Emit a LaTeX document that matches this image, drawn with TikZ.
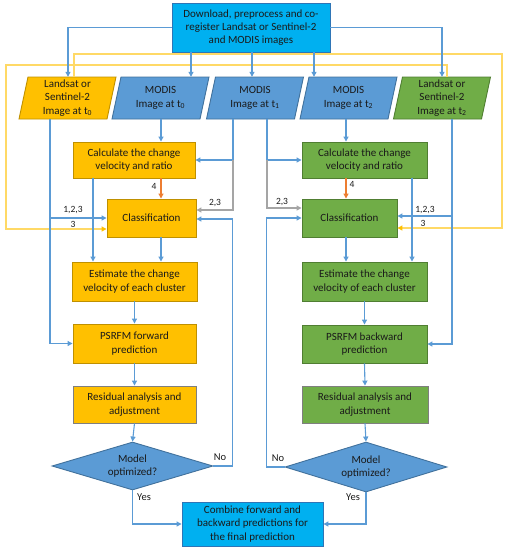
\documentclass[tikz,border=0pt]{standalone}
\usepackage{fontspec}
\setmainfont{Carlito}
\usetikzlibrary{shapes.geometric,arrows.meta}
\definecolor{cyanF}{HTML}{00B0F0}
\definecolor{cyanD}{HTML}{2E75B6}
\definecolor{orgF}{HTML}{FFC000}
\definecolor{orgD}{HTML}{BF9000}
\definecolor{bluF}{HTML}{5B9BD5}
\definecolor{bluD}{HTML}{41719C}
\definecolor{grnF}{HTML}{70AD47}
\definecolor{grnD}{HTML}{507E32}
\definecolor{resD}{HTML}{7F7F7F}
\definecolor{lnB}{HTML}{5B9BD5}
\definecolor{lnY}{HTML}{FFD966}
\definecolor{lnG}{HTML}{A5A5A5}
\definecolor{lnO}{HTML}{ED7D31}
\definecolor{txt}{HTML}{1A1A1A}
\newcommand{\parashape}[4]{%
  \filldraw[fill=#3, draw=#4, line width=0.9pt]
    (#1-48.5,#2+21) -- (#1+39.5,#2+21) -- (#1+48.5,#2-21) -- (#1-39.5,#2-21) -- cycle;}
\begin{document}
\begin{tikzpicture}[x=1pt,y=-1pt,
  font=\fontsize{11}{13.3}\selectfont,
  base/.style={draw, line width=0.9pt, align=center, inner sep=1pt, text=txt},
  cbox/.style={base, fill=cyanF, draw=cyanD},
  obox/.style={base, fill=orgF, draw=orgD},
  gbox/.style={base, fill=grnF, draw=grnD},
  para/.style={align=center, inner sep=0pt, text=txt, minimum width=88pt, minimum height=42pt},
  dia/.style={base, diamond, aspect=3.3, fill=bluF, draw=bluD, inner sep=0pt,
    minimum width=161pt, minimum height=48pt},
  arr/.style={draw=lnB, line width=1.1pt, -{Triangle[length=5pt,width=5pt]}},
  yel/.style={draw=lnY, line width=1.1pt, -{Triangle[length=5pt,width=5pt,color=orgF]}},
  gry/.style={draw=lnG, line width=1.1pt, -{Triangle[length=5pt,width=5pt]}},
  orn/.style={draw=lnO, line width=1.1pt, -{Triangle[length=5pt,width=5pt]}},
  lab/.style={font=\fontsize{9.5}{11}\selectfont, text=txt, inner sep=0pt},
  yn/.style={font=\fontsize{10.5}{12}\selectfont, text=txt, inner sep=0pt}
]
\useasboundingbox (0,0) rectangle (509,550);

% parallelogram shapes
\parashape{67.5}{98}{orgF}{orgD}
\parashape{160.5}{98}{bluF}{bluD}
\parashape{255}{98}{bluF}{bluD}
\parashape{348.5}{98}{bluF}{bluD}
\parashape{442}{98}{grnF}{grnD}

% nodes
\node[cbox, minimum width=158pt, minimum height=49pt] (top) at (251,27.5)
  {Download, preprocess and co-\\register Landsat or Sentinel-2\\and MODIS images};
\node[para] (ls0) at (67.5,98) {Landsat or\\Sentinel-2\\Image at t\textsubscript{0}};
\node[para] (m0) at (160.5,98) {MODIS\\Image at t\textsubscript{0}};
\node[para] (m1) at (255,98) {MODIS\\Image at t\textsubscript{1}};
\node[para] (m2) at (348.5,98) {MODIS\\Image at t\textsubscript{2}};
\node[para] (ls2) at (442,98) {Landsat or\\Sentinel-2\\Image at t\textsubscript{2}};

\node[obox, minimum width=122pt, minimum height=36pt] (calcO) at (134,160) {Calculate the change\\velocity and ratio};
\node[gbox, minimum width=125pt, minimum height=36pt] (calcG) at (364.5,160) {Calculate the change\\velocity and ratio};
\node[obox, minimum width=89pt, minimum height=38pt] (classO) at (151.5,218) {Classification};
\node[gbox, minimum width=95pt, minimum height=38pt] (classG) at (349.5,218) {Classification};
\node[obox, minimum width=125pt, minimum height=39pt] (estO) at (134.5,281.5) {Estimate the change\\velocity of each cluster};
\node[gbox, minimum width=125pt, minimum height=39pt] (estG) at (364.5,281.5) {Estimate the change\\velocity of each cluster};
\node[obox, minimum width=123pt, minimum height=39pt] (psO) at (134.5,343.5) {PSRFM forward\\prediction};
\node[gbox, minimum width=125pt, minimum height=38pt] (psG) at (364.5,344) {PSRFM backward\\prediction};
\node[obox, draw=resD, minimum width=123pt, minimum height=37pt] (resO) at (134.5,404.5) {Residual analysis and\\adjustment};
\node[gbox, draw=resD, minimum width=126pt, minimum height=37pt] (resG) at (365,404.5) {Residual analysis and\\adjustment};
\node[dia] (dO) at (132.5,466) {Model\\optimized?};
\node[dia, minimum width=162pt, minimum height=50pt] (dG) at (366,467) {Model\\optimized?};
\node[cbox, minimum width=141pt, minimum height=44pt] (comb) at (252.5,524)
  {Combine forward and\\backward predictions for\\the final prediction};

% helper coordinates
\coordinate (yA) at (502,54);
\coordinate (yB) at (6,65);
\coordinate (ls0x) at ([xshift=-17.5pt]ls0.south);
\coordinate (ls2x) at ([xshift=10pt]ls2.south);
\coordinate (m1l) at ([xshift=-22pt]m1.south);
\coordinate (m1r) at ([xshift=12pt]m1.south);
\coordinate (m0x) at ([xshift=0.5pt]m0.south);
\coordinate (m2x) at ([xshift=-2.5pt]m2.south);

% yellow lines
\draw[yel] ([xshift=6.5pt]ls0.north) |- (yA) |- ([yshift=-10pt]classG.east);
\draw[yel] ([xshift=5pt]ls2.north) |- (yB) |- ([yshift=-11pt]classO.west);

% from top box
\draw[arr] (top.west) -| ([xshift=0.5pt]ls0.north);
\draw[arr] (top.east) -| (ls2.north);
\draw[arr] ([xshift=-60pt]top.south) -- ([xshift=-60pt]top.south |- m0.north);
\draw[arr] ([xshift=1pt]top.south) -- ([xshift=1pt]top.south |- m1.north);
\draw[arr] ([xshift=63pt]top.south) -- ([xshift=63pt]top.south |- m2.north);

% left column inputs
\draw[arr] (ls0x) |- (psO.west);
\draw[arr] (ls0x |- classO.west) -- (classO.west);
\draw[arr] (m0x) -- (m0x |- calcO.north);
\draw[arr] (m1l) |- (calcO.east);
\draw[gry] (m1l |- calcO.east) |- ([yshift=8pt]classO.east);
% right column inputs
\draw[arr] (m1r) |- (calcG.west);
\draw[gry] (m1r |- calcG.west) |- ([yshift=10pt]classG.west);
\draw[arr] (m2x) -- (m2x |- calcG.north);
\draw[arr] (ls2x) |- (psG.east);
\draw[arr] ([yshift=2pt]ls2x |- classG.east) -- ([yshift=2pt]classG.east);

% left chain
\draw[orn] ([xshift=27pt]calcO.south) -- ([xshift=9.5pt]classO.north);
\draw[arr] ([xshift=-41pt]calcO.south) -- ([xshift=-41pt]calcO.south |- estO.north);
\draw[arr] ([xshift=9.5pt]classO.south) -- ([xshift=9.5pt]classO.south |- estO.north);
\draw[arr] (estO.south) -- (psO.north);
\draw[arr] (psO.south) -- (resO.north);
\draw[arr] (resO.south) -- (dO.north);
\draw[arr] (dO.east) -| ([xshift=36pt,yshift=-1pt]classO.east) -- ([yshift=-1pt]classO.east);
\draw[arr] (dO.south) |- (comb.west);

% right chain
\draw[orn] ([xshift=-18.5pt]calcG.south) -- ([xshift=-3.5pt]classG.north);
\draw[arr] ([xshift=47.5pt]calcG.south) -- ([xshift=47.5pt]calcG.south |- estG.north);
\draw[arr] ([xshift=-3.5pt]classG.south) -- ([xshift=-3.5pt]classG.south |- estG.north);
\draw[arr] (estG.south) -- (psG.north);
\draw[arr] (psG.south) -- (resG.north);
\draw[arr] (resG.south) -- (dG.north);
\draw[arr] (dG.west) -| ([xshift=-35pt]classG.west) -- (classG.west);
\draw[arr] (dG.south) |- (comb.east);

% labels
\node[lab] (l1) at (73,210) {1,2,3};
\node[lab] (l2) at (73,224.5) {3};
\node[lab] (l3) at (154,186) {4};
\node[lab] (l4) at (215,203) {2,3};
\node[lab] (l5) at (282,202) {2,3};
\node[lab] (l6) at (352,184) {4};
\node[lab] (l7) at (425,210) {1,2,3};
\node[lab] (l8) at (423,223.5) {3};
\node[yn] (n1) at (220,457) {No};
\node[yn] (n2) at (278,458) {No};
\node[yn] (y1) at (144,497) {Yes};
\node[yn] (y2) at (353,497) {Yes};
\end{tikzpicture}
\end{document}
